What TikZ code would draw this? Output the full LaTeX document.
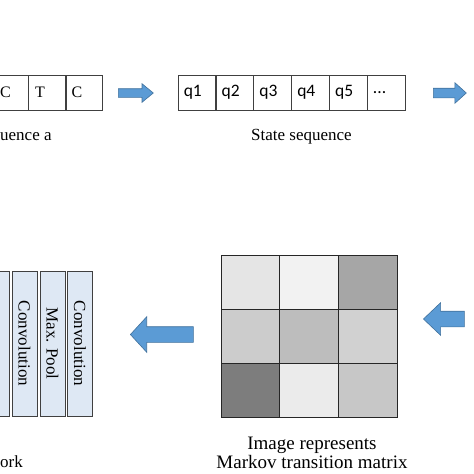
\documentclass[tikz,border=0pt]{standalone}
\usepackage{fontspec}
\setmainfont{Liberation Serif}
\newfontfamily\calfont{Carlito}
\usetikzlibrary{shapes.arrows}
\definecolor{arrowblue}{HTML}{5B9BD5}
\definecolor{arrowedge}{HTML}{41719C}
\definecolor{layerblue}{HTML}{DEE8F4}
\definecolor{boxline}{HTML}{404040}
\tikzset{
  blockarrow/.style={single arrow, fill=arrowblue, draw=arrowedge, line width=0.6pt, inner xsep=0pt},
  labeltext/.style={inner sep=0pt, font=\fontsize{17}{20}\selectfont}
}

\begin{document}
\begin{tikzpicture}[x=1pt, y=1pt]
        \useasboundingbox (0,0) rectangle (474,-474);
        \begin{scope}[every node/.style={draw=boxline, line width=0.8pt, minimum height=35pt, inner ysep=0pt, align=left, font=\fontsize{16}{18}\selectfont}]
            \node [text width=22pt, inner xsep=6pt] (nuc1) at (11,-92.5) {C};
            \node [text width=24pt, inner xsep=6.5pt] (nuc2) at (47,-92.5) {T};
            \node [text width=25pt, inner xsep=5.5pt] (nuc3) at (84,-92.5) {C};
        \end{scope}
        \begin{scope}[every node/.style={draw=boxline, line width=0.8pt, minimum height=35pt, text width=26.3pt, inner xsep=5.75pt, align=left, font=\calfont\fontsize{17.5}{20}\selectfont}]
            \node (q1) at (196.9,-92.5) {q1};
            \node (q2) at (234.8,-92.5) {q2};
            \node (q3) at (272.6,-92.5) {q3};
            \node (q4) at (310.4,-92.5) {q4};
            \node (q5) at (348.3,-92.5) {q5};
            \node (qn) at (386.1,-92.5) {...};
        \end{scope}
        \node [labeltext, anchor=base west] (seqlabel) at (0,-140) {uence a};
        \node [labeltext, anchor=base] (statelabel) at (301.5,-140) {State sequence};

        \node [blockarrow, anchor=tail, minimum height=35pt, inner ysep=4pt, single arrow head extend=5pt, single arrow tip angle=79] (arrseq) at (118,-93) {};
        \node [blockarrow, anchor=tail, minimum height=33pt, inner ysep=4.5pt, single arrow head extend=5.5pt, single arrow tip angle=84] (arrstate) at (433,-93) {};
        \node [blockarrow, shape border rotate=180, anchor=tip, minimum height=41pt, inner ysep=7.5pt, single arrow head extend=8.5pt, single arrow tip angle=87] (arrmat) at (423,-319) {};
        \node [blockarrow, shape border rotate=180, anchor=tip, minimum height=63pt, inner ysep=7.5pt, single arrow head extend=10pt, single arrow tip angle=95] (arrnet) at (130,-334.5) {};

        \foreach \r/\c/\g in {1/1/10,1/2/5,1/3/35,2/1/20,2/2/26,2/3/18,3/1/51,3/2/8,3/3/22}
            \node [draw=black!85, line width=0.8pt, fill=black!\g, minimum width=58.67pt, minimum height=54pt, inner sep=0pt] (m\r\c) at ({221+58.67*(\c-0.5)},{-255-54*(\r-0.5)}) {};
        \node [inner sep=0pt, anchor=base, align=center, font=\fontsize{19}{19}\selectfont] (matlabel) at (312,-468.5) {Image represents\\Markov transition matrix};

        \begin{scope}[every node/.style={draw=boxline, fill=layerblue, line width=0.8pt, minimum width=145pt, minimum height=25pt, inner sep=0pt, rotate=-90, font=\fontsize{17}{20}\selectfont}]
            \node (layer0) at (-3.5,-343.5) {};
            \node (layer1) at (24.5,-343.5) {Convolution};
            \node (layer2) at (52.5,-343.5) {Max. Pool};
            \node (layer3) at (80,-343.5) {Convolution};
        \end{scope}
        \node [labeltext, anchor=base west] (netlabel) at (0,-467) {ork};
    \end{tikzpicture}
\end{document}
